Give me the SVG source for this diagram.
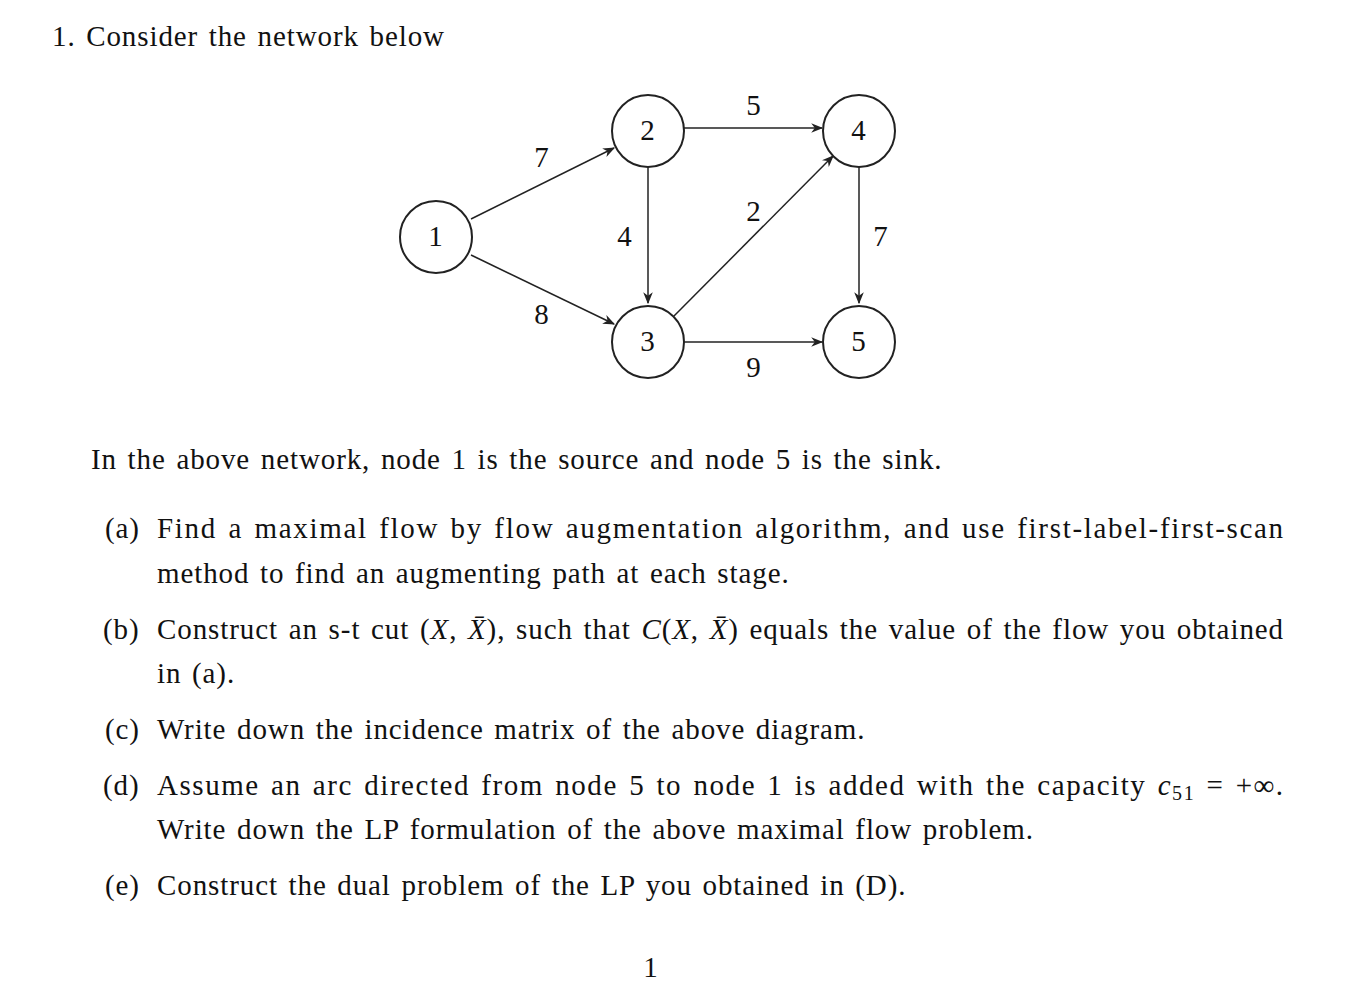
<svg xmlns="http://www.w3.org/2000/svg" width="1357" height="987" viewBox="0 0 1357 987">
<style>
text{font-family:"Liberation Serif","DejaVu Serif",serif;font-size:29px;fill:#111;letter-spacing:0.9px;word-spacing:2.5px}
.n circle{fill:#fff;stroke:#222;stroke-width:2}
.n text,.l{text-anchor:middle}
.e line{stroke:#222;stroke-width:1.5;marker-end:url(#a)}
</style>
<defs><marker id="a" viewBox="0 0 10 10" refX="9" refY="5" markerWidth="12" markerHeight="12" orient="auto" markerUnits="userSpaceOnUse"><path d="M0,1 L10,5 L0,9 L3,5z" fill="#222"/></marker></defs>
<rect width="1357" height="987" fill="#fff"/>
<text x="52" y="46">1.  Consider the network below</text>
<g class="e">
<line x1="471" y1="219" x2="614" y2="148"/>
<line x1="471" y1="255" x2="614" y2="324"/>
<line x1="684" y1="128" x2="822" y2="128"/>
<line x1="648" y1="167" x2="648" y2="303"/>
<line x1="674" y1="316" x2="833" y2="156"/>
<line x1="859" y1="167" x2="859" y2="303"/>
<line x1="684" y1="342" x2="822" y2="342"/>
</g>
<g class="l">
<text class="l" x="542" y="167">7</text>
<text class="l" x="542" y="324">8</text>
<text class="l" x="754" y="115">5</text>
<text class="l" x="625" y="246">4</text>
<text class="l" x="754" y="221">2</text>
<text class="l" x="881" y="246">7</text>
<text class="l" x="754" y="377">9</text>
</g>
<g id="n1" class="n"><circle cx="436" cy="237" r="36"/><text x="436" y="246">1</text></g>
<g id="n2" class="n"><circle cx="648" cy="131" r="36"/><text x="648" y="140">2</text></g>
<g id="n4" class="n"><circle cx="859" cy="131" r="36"/><text x="859" y="140">4</text></g>
<g id="n3" class="n"><circle cx="648" cy="342" r="36"/><text x="648" y="351">3</text></g>
<g id="n5" class="n"><circle cx="859" cy="342" r="36"/><text x="859" y="351">5</text></g>
<text x="91" y="469">In the above network, node 1 is the source and node 5 is the sink.</text>
<text x="105" y="538">(a)</text>
<text x="157" y="538" textLength="1127" lengthAdjust="spacing">Find a maximal flow by flow augmentation algorithm, and use first-label-first-scan</text>
<text x="157" y="583">method to find an augmenting path at each stage.</text>
<text x="103" y="639">(b)</text>
<text x="157" y="639" textLength="1127" lengthAdjust="spacing">Construct an s-t cut (<tspan font-style="italic">X</tspan>, <tspan font-style="italic">X̄</tspan>), such that <tspan font-style="italic">C</tspan>(<tspan font-style="italic">X</tspan>, <tspan font-style="italic">X̄</tspan>) equals the value of the flow you obtained</text>
<text x="157" y="683">in (a).</text>
<text x="105" y="739">(c)</text>
<text x="157" y="739">Write down the incidence matrix of the above diagram.</text>
<text x="103" y="795">(d)</text>
<text x="157" y="795" textLength="1127" lengthAdjust="spacing">Assume an arc directed from node 5 to node 1 is added with the capacity <tspan font-style="italic">c</tspan><tspan font-size="20" dy="5">51</tspan><tspan dy="-5"> = +∞.</tspan></text>
<text x="157" y="839">Write down the LP formulation of the above maximal flow problem.</text>
<text x="105" y="895">(e)</text>
<text x="157" y="895">Construct the dual problem of the LP you obtained in (D).</text>
<text x="651" y="977" text-anchor="middle">1</text>
</svg>
